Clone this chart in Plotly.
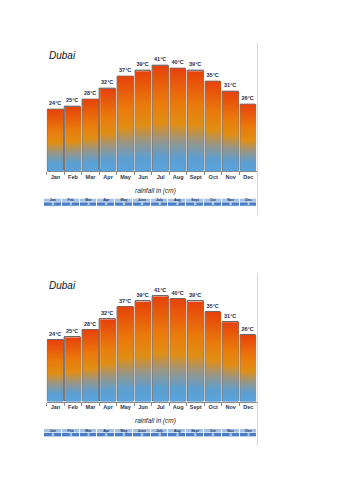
import plotly.graph_objects as go

# ---- data ----
city = "Dubai"
months = ["Jan", "Feb", "Mar", "Apr", "May", "Jun", "Jul", "Aug", "Sept", "Oct", "Nov", "Dec"]
temps = [24, 25, 28, 32, 37, 39, 41, 40, 39, 35, 31, 26]
table_months = ["Jan", "Feb", "Mar", "Apr", "May", "June", "July", "Aug", "Sept", "Oct", "Nov", "Dec"]
rainfall = [0, 3, 3, 0, 0, 0, 0, 0, 0, 0, 0, 3]

W, H = 353, 500
def fx(x): return x / W
def fy(y): return 1 - y / H

BAR_W = 0.9
grad = [[0.0, "#5aa3dc"], [0.13, "#5c9fd2"], [0.30, "#9a9684"], [0.46, "#e08e14"],
        [0.66, "#ea7a0c"], [1.0, "#e6420a"]]

fig = go.Figure()
offsets = [0, 230.5]
layout_axes = {}
for k, off in enumerate(offsets):
    n = 2 * k + 1
    xa = "x" if n == 1 else f"x{n}"
    ya = "y" if n == 1 else f"y{n}"
    xt = f"x{n+1}"
    yt = f"y{n+1}"
    # gradient fills
    for i, v in enumerate(temps):
        fig.add_trace(go.Scatter(
            x=[i - BAR_W / 2, i - BAR_W / 2, i + BAR_W / 2, i + BAR_W / 2, i - BAR_W / 2],
            y=[0, v, v, 0, 0], mode="lines", fill="toself", line=dict(width=0),
            fillgradient=dict(type="vertical", colorscale=grad, start=0, stop=v),
            hoverinfo="skip", showlegend=False, xaxis=xa, yaxis=ya))
    # bar outlines + labels
    fig.add_trace(go.Bar(
        x=list(range(12)), y=temps, width=BAR_W,
        marker=dict(color="rgba(0,0,0,0)", line=dict(color="#4a3c3c", width=1)),
        text=[f"{t}°C" for t in temps], textposition="outside",
        textfont=dict(family="Liberation Sans", size=5.5, color="#1f2d4d", weight="bold"),
        cliponaxis=False, showlegend=False, xaxis=xa, yaxis=ya))
    # rainfall table: cell colours
    fig.add_trace(go.Heatmap(
        x=list(range(12)), y=[1, 0], z=[[0] * 12, [1] * 12],
        colorscale=[[0, "#a3bfe4"], [1, "#4a7ec8"]], showscale=False, xgap=1, ygap=0.5,
        hoverinfo="skip", xaxis=xt, yaxis=yt))
    # rainfall table: texts
    fig.add_trace(go.Scatter(
        x=list(range(12)), y=[1] * 12, mode="text", text=table_months,
        textposition="middle center", cliponaxis=False,
        textfont=dict(family="Liberation Sans", size=3.5, color="#1f3460", weight="bold"),
        hoverinfo="skip", showlegend=False, xaxis=xt, yaxis=yt))
    fig.add_trace(go.Scatter(
        x=list(range(12)), y=[0] * 12, mode="text", text=[str(r) for r in rainfall],
        textposition="middle center", cliponaxis=False,
        textfont=dict(family="Liberation Sans", size=4, color="#ffffff", weight="bold"),
        hoverinfo="skip", showlegend=False, xaxis=xt, yaxis=yt))

    base = 171.2 + off
    top = base - 45 * 2.566
    xkey = "xaxis" if n == 1 else f"xaxis{n}"
    ykey = "yaxis" if n == 1 else f"yaxis{n}"
    layout_axes[xkey] = dict(
        domain=[fx(46.7), fx(257.0)], range=[-0.5, 11.5], anchor=ya,
        tickmode="array", tickvals=list(range(12)), ticktext=months, ticks="",
        showline=True, linecolor="#8a8a8a", linewidth=1, showgrid=False, zeroline=False,
        tickfont=dict(family="Liberation Sans", size=5.5, color="#2b3850", weight="bold"),
        minor=dict(tickmode="array", tickvals=[i - 0.5 for i in range(13)], ticks="outside",
                   ticklen=3, tickcolor="#8a8a8a", showgrid=False),
        fixedrange=True)
    layout_axes[ykey] = dict(domain=[fy(base), fy(top)], range=[0, 45], anchor=xa,
                             visible=False, fixedrange=True)
    layout_axes[f"xaxis{n+1}"] = dict(domain=[fx(44), fx(257.3)], range=[-0.5, 11.5],
                                      anchor=yt, visible=False, fixedrange=True)
    layout_axes[f"yaxis{n+1}"] = dict(domain=[fy(206.2 + off), fy(198.5 + off)],
                                      range=[-0.5, 1.5], anchor=xt, visible=False, fixedrange=True)

annotations = []
shapes = []
for off in offsets:
    annotations.append(dict(text=city, xref="paper", yref="paper", x=fx(47.5), y=fy(55.2 + off),
                            xanchor="left", yanchor="middle", showarrow=False,
                            font=dict(family="Liberation Sans", size=10, color="#111111", style="italic")))
    annotations.append(dict(text="rainfall in (cm)", xref="paper", yref="paper", x=fx(155), y=fy(190.7 + off),
                            xanchor="center", yanchor="middle", showarrow=False,
                            font=dict(family="Liberation Sans", size=6.5, color="#222222", style="italic")))
    shapes.append(dict(type="line", xref="paper", yref="paper", x0=fx(257.5), x1=fx(257.5),
                       y0=fy(43 + off), y1=fy(215 + off), line=dict(color="#d6d6d6", width=1)))

fig.update_layout(width=W, height=H, margin=dict(l=0, r=0, t=0, b=0),
                  paper_bgcolor="white", plot_bgcolor="rgba(0,0,0,0)",
                  barmode="overlay", bargap=0, annotations=annotations, shapes=shapes,
                  **layout_axes)
fig.write_html("out.html")
